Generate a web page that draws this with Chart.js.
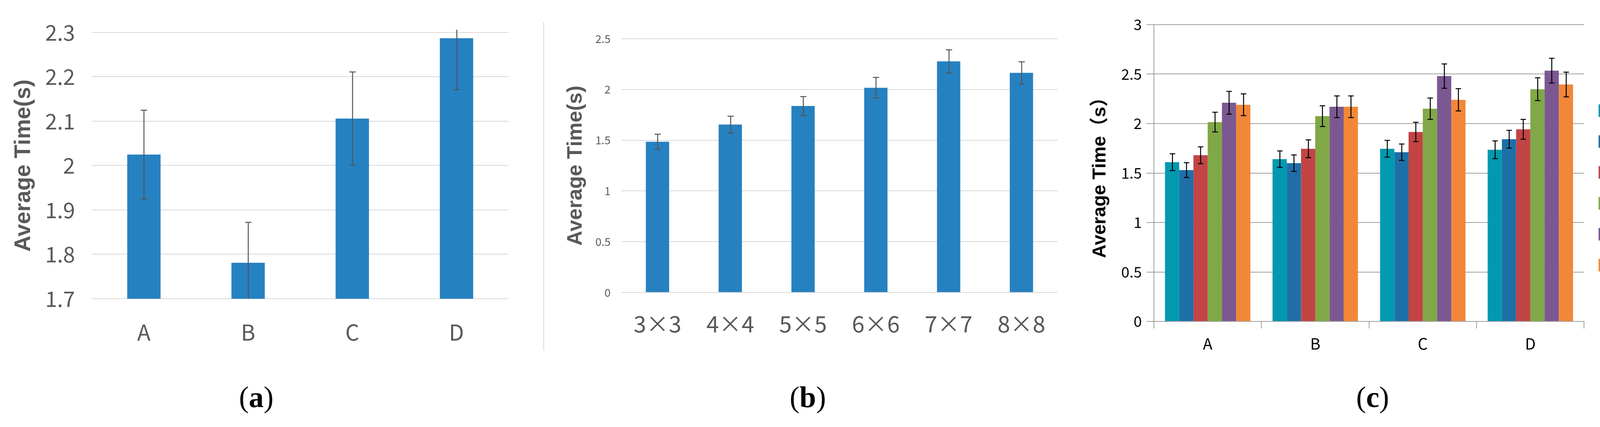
<!DOCTYPE html>
<html>
<head>
<meta charset="utf-8">
<script src="https://cdn.jsdelivr.net/npm/chart.js@4/dist/chart.umd.min.js"></script>
<style>
  html, body { margin: 0; padding: 0; background: #fff; }
  body { width: 4304px; height: 1092px; position: relative; overflow: hidden; }
  canvas { position: absolute; top: 0; }
  .sep { position: absolute; left: 1391px; top: 57px; width: 2px; height: 840px; background: #d9d9d9; }
  .cap { position: absolute; top: 972px; font: 76px "Liberation Serif", serif; color: #000; transform: translateX(-50%); white-space: nowrap; }
  .cap b { font-weight: bold; }
</style>
</head>
<body>
<canvas id="chartA" width="1392" height="960" style="left:0px"></canvas>
<div class="sep"></div>
<canvas id="chartB" width="1350" height="960" style="left:1400px"></canvas>
<canvas id="chartC" width="1554" height="960" style="left:2750px"></canvas>
<div class="cap" style="left:656px">(<b>a</b>)</div>
<div class="cap" style="left:2068px">(<b>b</b>)</div>
<div class="cap" style="left:3514px">(<b>c</b>)</div>
<script>
// panel (a)
const catsA = ["A", "B", "C", "D"];
const valsA = [2.025, 1.781, 2.106, 2.287];
const errA = [0.1, 0.091, 0.105, 0.116];
const ticksA = [1.7, 1.8, 1.9, 2, 2.1, 2.2, 2.3];

// panel (b)
const catsB = ["3×3", "4×4", "5×5", "6×6", "7×7", "8×8"];
const valsB = [1.485, 1.654, 1.837, 2.017, 2.277, 2.164];
const errB = [0.074, 0.082, 0.093, 0.102, 0.114, 0.109];
const ticksB = [0, 0.5, 1, 1.5, 2, 2.5];

// panel (c)
const catsC = ["A", "B", "C", "D"];
const seriesC = ["3×3", "4×4", "5×5", "6×6", "7×7", "8×8"];
const colorsC = ["#0099b0", "#1e6fa8", "#c24444", "#80a846", "#7b5891", "#f38738"];
const vals3 = [1.61, 1.64, 1.745, 1.735];
const vals4 = [1.53, 1.60, 1.71, 1.842];
const vals5 = [1.68, 1.745, 1.915, 1.942];
const vals6 = [2.015, 2.075, 2.15, 2.347];
const vals7 = [2.21, 2.17, 2.48, 2.535];
const vals8 = [2.19, 2.17, 2.24, 2.395];
const err3 = [0.085, 0.083, 0.085, 0.09];
const err4 = [0.075, 0.083, 0.083, 0.09];
const err5 = [0.085, 0.09, 0.098, 0.1];
const err6 = [0.1, 0.105, 0.108, 0.115];
const err7 = [0.115, 0.11, 0.123, 0.125];
const err8 = [0.11, 0.11, 0.113, 0.125];
const ticksC = [0, 0.5, 1, 1.5, 2, 2.5, 3];

const BLUE = "#2681c1";
const GREY_TXT = "#595959";
const LABEL_FONT = '"Noto Sans CJK SC", "Noto Sans", sans-serif';
const TITLE_FONT = '"Liberation Sans", "Noto Sans CJK SC", sans-serif';

// draws the +/- error whiskers on top of every bar
const errorBars = {
  id: "errorBars",
  afterDatasetsDraw(chart, args, opts) {
    const { ctx, chartArea: a, scales: { y } } = chart;
    const over = opts.overTop || 0;
    ctx.save();
    ctx.beginPath();
    ctx.rect(a.left, a.top - over, a.right - a.left, a.bottom - a.top + over);
    ctx.clip();
    ctx.strokeStyle = opts.color;
    ctx.lineWidth = opts.width;
    chart.data.datasets.forEach((ds, di) => {
      const meta = chart.getDatasetMeta(di);
      meta.data.forEach((bar, i) => {
        const v = ds.data[i], e = ds.errors[i];
        const yt = y.getPixelForValue(v + e);
        const yb = y.getPixelForValue(v - e);
        const x = Math.round(bar.x) + 0.5;
        ctx.beginPath();
        ctx.moveTo(x, yt);
        ctx.lineTo(x, yb);
        ctx.moveTo(x - opts.cap, yt);
        ctx.lineTo(x + opts.cap, yt);
        ctx.moveTo(x - opts.cap, yb);
        ctx.lineTo(x + opts.cap, yb);
        ctx.stroke();
      });
    });
    ctx.restore();
  }
};

function fixedTicks(list) {
  return function (scale) {
    scale.ticks = list.map(v => ({ value: v }));
  };
}

const plainLabel = value => String(value);

function simpleChart(id, cats, vals, errs, ticks, cfg) {
  return new Chart(document.getElementById(id), {
    type: "bar",
    data: {
      labels: cats,
      datasets: [{
        data: vals,
        errors: errs,
        backgroundColor: BLUE,
        borderWidth: 0,
        barPercentage: 0.32,
        categoryPercentage: 1
      }]
    },
    options: {
      responsive: false,
      animation: false,
      devicePixelRatio: 1,
      layout: { padding: { left: 0, top: cfg.top, right: cfg.right, bottom: 0 } },
      plugins: {
        legend: { display: false },
        tooltip: { enabled: false },
        errorBars: { color: "#555555", width: 2.5, cap: 8, overTop: cfg.overTop || 0 }
      },
      scales: {
        x: {
          grid: { display: false, drawTicks: false },
          border: { display: false },
          ticks: { color: GREY_TXT, font: { family: LABEL_FONT, size: cfg.xFont }, padding: cfg.xPad },
          afterFit: s => { s.height = cfg.xHeight; }
        },
        y: {
          min: ticks[0],
          max: ticks[ticks.length - 1],
          afterBuildTicks: fixedTicks(ticks),
          grid: { color: "#d9d9d9", lineWidth: 2, drawTicks: false },
          border: { display: false },
          ticks: {
            color: GREY_TXT,
            font: { family: LABEL_FONT, size: cfg.yFont },
            padding: cfg.yPad,
            callback: plainLabel
          },
          title: {
            display: true,
            text: "Average Time(s)",
            color: GREY_TXT,
            font: { family: TITLE_FONT, size: cfg.titleSize, weight: "bold", lineHeight: 1 },
            padding: { top: cfg.titlePad, bottom: 0 }
          },
          afterFit: s => { s.width = cfg.yWidth; }
        }
      }
    },
    plugins: [errorBars]
  });
}

function drawAll() {
  simpleChart("chartA", catsA, valsA, errA, ticksA, {
    top: 83, right: 90, xHeight: 196, yWidth: 235,
    xFont: 56, xPad: 52, yFont: 55, yPad: 43,
    titleSize: 57, titlePad: 33, overTop: 7
  });

  simpleChart("chartB", catsB, valsB, errB, ticksB, {
    top: 99, right: 42, xHeight: 212, yWidth: 190,
    xFont: 58, xPad: 45, yFont: 28, yPad: 27,
    titleSize: 53, titlePad: 48
  });

  const valsC = [vals3, vals4, vals5, vals6, vals7, vals8];
  const errsC = [err3, err4, err5, err6, err7, err8];

  new Chart(document.getElementById("chartC"), {
    type: "bar",
    data: {
      labels: catsC,
      datasets: seriesC.map((name, i) => ({
        label: name,
        data: valsC[i],
        errors: errsC[i],
        backgroundColor: colorsC[i],
        borderWidth: 0,
        barPercentage: 1,
        categoryPercentage: 0.794
      }))
    },
    options: {
      responsive: false,
      animation: false,
      devicePixelRatio: 1,
      layout: { padding: { left: 0, top: 63, right: 60, bottom: 62 } },
      plugins: {
        tooltip: { enabled: false },
        legend: {
          position: "right",
          labels: {
            boxWidth: 32,
            boxHeight: 32,
            padding: 37,
            color: "#000",
            font: { family: LABEL_FONT, size: 42, lineHeight: 1 }
          }
        },
        errorBars: { color: "#000", width: 2.5, cap: 7 }
      },
      scales: {
        x: {
          grid: { display: true, drawOnChartArea: false, offset: true, tickLength: 18, color: "#a0a0a0", lineWidth: 2 },
          border: { display: true, color: "#a0a0a0", width: 2 },
          ticks: { color: "#000", font: { family: LABEL_FONT, size: 40 }, padding: 15 },
          afterFit: s => { s.height = 76; }
        },
        y: {
          min: 0,
          max: 3,
          afterBuildTicks: fixedTicks(ticksC),
          grid: { color: "#a0a0a0", lineWidth: 2, tickLength: 19 },
          border: { display: true, color: "#a0a0a0", width: 2 },
          ticks: {
            color: "#000",
            font: { family: LABEL_FONT, size: 38 },
            padding: 12,
            callback: plainLabel
          },
          title: {
            display: true,
            text: "Average Time（s）",
            color: "#000",
            font: { family: TITLE_FONT, size: 48, weight: "bold", lineHeight: 1 },
            padding: { top: 43, bottom: 0 }
          },
          afterFit: s => { s.width = 204; }
        }
      }
    },
    plugins: [errorBars]
  });
}

Promise.all([
  document.fonts.load('40px "Noto Sans CJK SC"'),
  document.fonts.load('bold 50px "Liberation Sans"'),
  document.fonts.load('76px "Liberation Serif"')
]).then(drawAll, drawAll);
</script>
</body>
</html>
